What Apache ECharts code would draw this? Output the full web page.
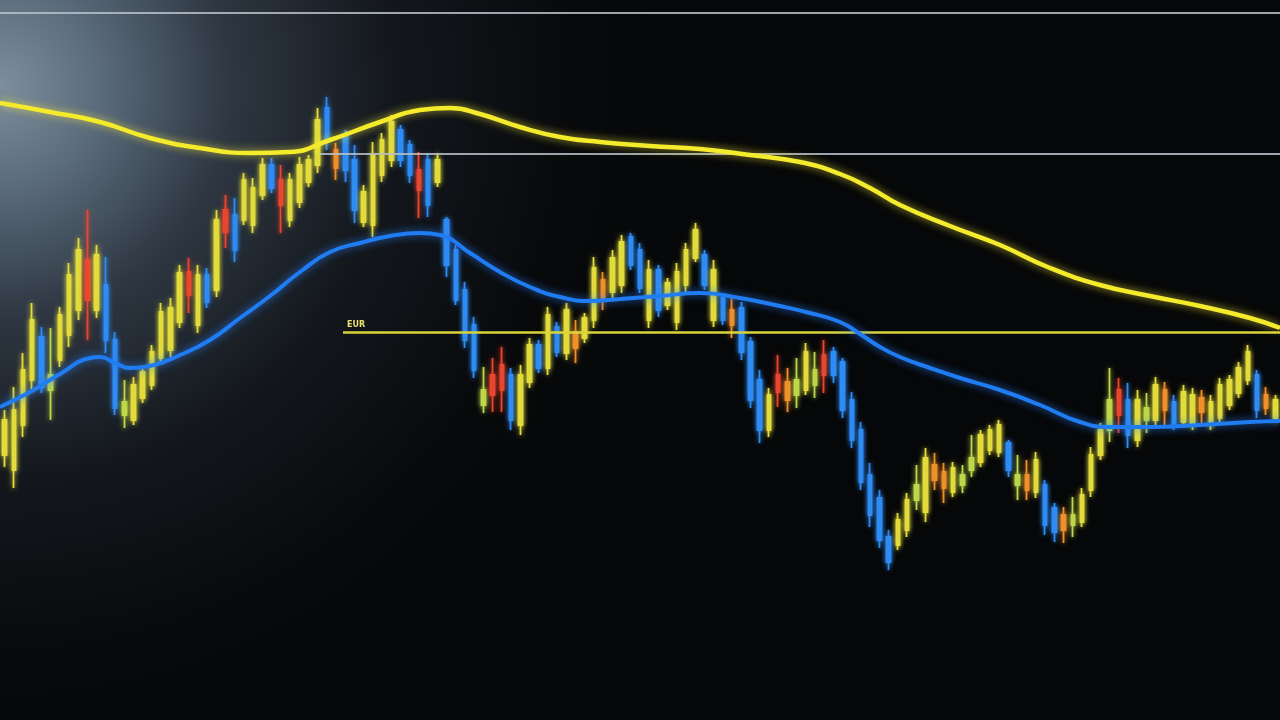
<!DOCTYPE html>
<html>
<head>
<meta charset="utf-8">
<script src="https://cdn.jsdelivr.net/npm/echarts@6/dist/echarts.min.js"></script>
<style>
html,body{margin:0;padding:0;background:#060708;}
#chart{width:1280px;height:720px;}
</style>
</head>
<body>
<div id="chart"></div>
<script>
// OHLC candles: [open, close, low, high]
const candles = [
[265,300,253,310],[250,310,232,333],[295,350,283,367],[340,400,327,417],[383,333,327,393],
[330,345,300,392],[360,405,353,413],[385,445,373,457],[410,470,400,482],[460,420,380,510],
[410,465,402,475],[435,380,367,463],[380,312,305,388],[305,318,292,340],[300,335,295,343],
[322,348,317,353],[335,368,330,375],[362,408,357,417],[370,412,363,422],[398,447,392,455],
[448,425,407,462],[395,445,387,455],[445,418,412,452],[430,500,423,510],[510,488,472,525],
[505,470,458,522],[500,540,495,547],[495,532,487,542],[525,555,520,562],[555,532,527,562],
[540,515,487,555],[500,540,493,547],[518,555,512,563],[538,560,533,565],[555,600,547,612],
[612,580,570,623],[570,552,540,577],[585,550,538,590],[560,510,497,575],[498,528,493,535],
[495,565,483,578],[545,580,538,587],[560,598,553,605],[590,560,553,595],[575,545,537,580],
[550,530,502,568],[560,515,503,567],[538,560,533,567],[500,455,443,503],[470,420,415,475],
[430,380,372,438],[395,350,342,403],[315,330,307,353],[345,325,308,362],[355,330,308,373],
[345,300,290,352],[295,345,285,355],[338,375,332,382],[375,352,347,380],[352,405,345,413],
[393,368,363,398],[367,410,360,417],[388,372,357,400],[382,402,377,407],[400,452,392,463],
[440,422,410,448],[428,462,422,470],[435,478,427,485],[483,455,450,487],[470,432,427,477],
[400,450,392,460],[450,410,403,455],[415,437,410,442],[398,448,390,457],[435,470,428,477],
[462,490,458,497],[465,435,430,470],[400,450,393,460],[422,400,395,427],[410,395,382,422],
[412,368,360,418],[378,320,312,383],[340,290,277,350],[290,325,283,332],[345,328,313,365],
[338,320,308,352],[325,340,312,362],[330,368,325,377],[335,350,322,368],[365,345,327,380],
[368,345,337,373],[358,310,302,362],[320,280,272,328],[290,238,230,298],[245,205,193,257],
[222,180,172,230],[183,158,150,190],[175,200,170,207],[190,220,183,227],[220,235,210,255],
[208,262,198,272],[255,240,230,267],[248,232,217,257],[228,252,223,258],[235,245,227,255],
[250,262,243,285],[258,285,253,290],[270,290,265,295],[268,295,263,300],[277,250,243,280],
[235,245,220,265],[245,230,220,260],[228,260,222,268],[235,195,185,240],[212,188,178,217],
[205,190,177,213],[195,205,183,223],[198,225,193,232],[230,265,223,273],[265,290,260,297],
[290,320,278,352],[330,305,287,342],[320,285,272,337],[280,320,273,330],[300,312,287,327],
[300,335,295,343],[330,310,295,338],[318,295,290,325],[298,328,293,335],[295,325,290,332],
[322,308,297,330],[295,318,290,325],[302,335,297,342],[315,340,310,345],[327,352,322,358],
[340,368,335,375],[345,310,302,350],[325,312,305,333],[302,320,297,325]
];
// Slow moving average (yellow), read as [x position, price]
const yellowMA = [[0,617],[50,608],[100,598],[150,582],[200,572],[250,567],[290,568],[330,580],[380,598],[420,610],[450,612],[480,606],[520,593],[560,583],[600,578],[650,574],[700,571],[750,565],[800,558],[840,546],[870,532],[900,515],[950,494],[1000,475],[1050,452],[1100,435],[1150,424],[1200,414],[1250,402],[1280,392]];
// Fast moving average (blue)
const blueMA = [[0,313],[30,328],[60,346],[90,362],[100,363],[115,357],[130,352],[150,354],[180,365],[210,380],[240,402],[270,424],[300,448],[330,468],[360,477],[390,484],[420,487],[440,485],[470,467],[500,448],[530,433],[560,423],[590,419],[620,421],[660,424],[700,427],[740,422],[780,414],[810,407],[840,398],[860,386],[880,373],[900,363],[930,352],[960,342],[1000,330],[1040,315],[1080,298],[1110,293],[1150,293],[1200,295],[1250,298],[1280,299]];
// Horizontal levels: [price, startX, endX]
const grayLevels = [[707,0,1280],[566,320,1280]];
const yellowLevel = [388,343,1280];
const levelLabel = 'EUR';

const categories = candles.map((d,i)=>String(i+1));

const BLUE='#2f8cf4', YELLOW='#e2dc3c', LIME='#bdd84a', RED='#e9472f', ORANGE='#ef902b';
function tone(d){
  const o=d[0],c=d[1],l=d[2],h=d[3];
  const r=h-l, b=Math.abs(c-o);
  if(c<o){ if(b/r>=0.5) return BLUE; return r>=50?RED:ORANGE; }
  return b/r>=0.5?YELLOW:LIME;
}
const candleData = candles.map(d=>{
  const col=tone(d);
  return {value:d,itemStyle:{color:col,color0:col,borderColor:col,borderColor0:col,shadowColor:col,shadowBlur:5}};
});

const chart = echarts.init(document.getElementById('chart'));
chart.setOption({
  animation:false,
  backgroundColor:{type:'radial',x:0,y:0.12,r:1.0,colorStops:[
    {offset:0,color:'#7d8e9c'},{offset:0.14,color:'#5a6b7b'},{offset:0.32,color:'#2e3742'},
    {offset:0.55,color:'#13171c'},{offset:0.8,color:'#08090b'},{offset:1,color:'#060708'}]},
  grid:{left:0,right:0,top:0,bottom:0},
  xAxis:[
    {type:'category',data:categories,boundaryGap:true,show:false},
    {type:'value',min:0,max:1280,show:false}
  ],
  yAxis:{type:'value',min:0,max:720,show:false,splitLine:{show:false}},
  series:[
    {type:'line',xAxisIndex:1,data:[],silent:true,
     markLine:{symbol:'none',silent:true,
       lineStyle:{color:'#b8bfc8',width:2,type:'solid',opacity:0.85},
       label:{show:false},
       data:grayLevels.map(l=>[{coord:[l[1],l[0]]},{coord:[l[2],l[0]]}])}},
    {type:'line',xAxisIndex:1,data:[],silent:true,
     markLine:{symbol:'none',silent:true,
       lineStyle:{color:'#d9d43a',width:2.5,type:'solid'},
       label:{show:true,position:'insideStartTop',formatter:levelLabel,color:'#e8e070',fontSize:8,fontWeight:'bold',fontFamily:'DejaVu Sans',distance:[4,3]},
       data:[[{coord:[yellowLevel[1],yellowLevel[0]]},{coord:[yellowLevel[2],yellowLevel[0]]}]]}},
    {type:'candlestick',xAxisIndex:0,data:candleData,barWidth:4,
     itemStyle:{borderWidth:1.8}},
    {type:'line',xAxisIndex:1,data:blueMA,smooth:0.5,symbol:'none',
     lineStyle:{color:'#1f7cf2',width:4,shadowColor:'rgba(40,130,255,0.8)',shadowBlur:8},z:5},
    {type:'line',xAxisIndex:1,data:yellowMA,smooth:0.5,symbol:'none',
     lineStyle:{color:'#f3eb2c',width:4.5,shadowColor:'rgba(255,240,60,0.7)',shadowBlur:8},z:5}
  ]
});
</script>
</body>
</html>
